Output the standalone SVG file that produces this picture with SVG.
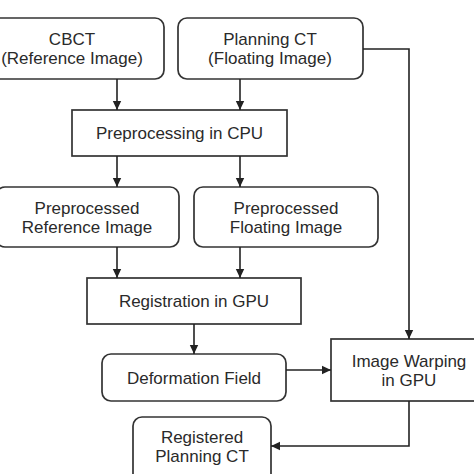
<svg xmlns="http://www.w3.org/2000/svg" width="474" height="474" viewBox="0 0 474 474">
<defs>
<marker id="ah" markerWidth="10" markerHeight="10" refX="9" refY="5" orient="auto" markerUnits="userSpaceOnUse">
<path d="M0,0.8 L9,5 L0,9.2 Z" fill="#222"/>
</marker>
</defs>
<style>
.b{fill:#fff;stroke:#333;stroke-width:1.7}
.t{font-family:"Liberation Sans",Arial,sans-serif;font-size:17px;fill:#2a2a2a;text-anchor:middle}
.c{fill:none;stroke:#222;stroke-width:1.6;marker-end:url(#ah)}
</style>
<rect width="474" height="474" fill="#fff"/>
<g id="cbct"><rect class="b" x="-20" y="18" width="184" height="61" rx="9"/><text class="t" x="72" y="45">CBCT</text><text class="t" x="72" y="64">(Reference Image)</text></g>
<g id="planning"><rect class="b" x="178" y="18" width="185" height="61" rx="9"/><text class="t" x="270" y="45">Planning CT</text><text class="t" x="270" y="64">(Floating Image)</text></g>
<g id="prep"><rect class="b" x="72" y="110" width="215" height="46"/><text class="t" x="179.5" y="139">Preprocessing in CPU</text></g>
<g id="pref"><rect class="b" x="-4" y="187" width="183" height="60" rx="9"/><text class="t" x="87" y="214">Preprocessed</text><text class="t" x="87" y="233">Reference Image</text></g>
<g id="pflo"><rect class="b" x="194" y="187" width="184" height="60" rx="9"/><text class="t" x="286" y="214">Preprocessed</text><text class="t" x="286" y="233">Floating Image</text></g>
<g id="reg"><rect class="b" x="87" y="278" width="214" height="46"/><text class="t" x="194" y="307">Registration in GPU</text></g>
<g id="def"><rect class="b" x="102" y="354" width="184" height="47" rx="9"/><text class="t" x="194" y="384">Deformation Field</text></g>
<g id="warp"><rect class="b" x="331" y="339" width="156" height="62"/><text class="t" x="409" y="367">Image Warping</text><text class="t" x="409" y="386">in GPU</text></g>
<g id="out"><rect class="b" x="133" y="417" width="138" height="70" rx="9"/><text class="t" x="202" y="443">Registered</text><text class="t" x="202" y="462">Planning CT</text></g>
<g id="connectors">
<path class="c" d="M117,79 V110"/>
<path class="c" d="M240,79 V110"/>
<path class="c" d="M117,156 V187"/>
<path class="c" d="M240,156 V187"/>
<path class="c" d="M117,247 V278"/>
<path class="c" d="M240,247 V278"/>
<path class="c" d="M194,324 V354"/>
<path class="c" d="M363,49 H409 V339"/>
<path class="c" d="M286,370 H331"/>
<path class="c" d="M409,401 V446 H271"/>
</g>
</svg>
